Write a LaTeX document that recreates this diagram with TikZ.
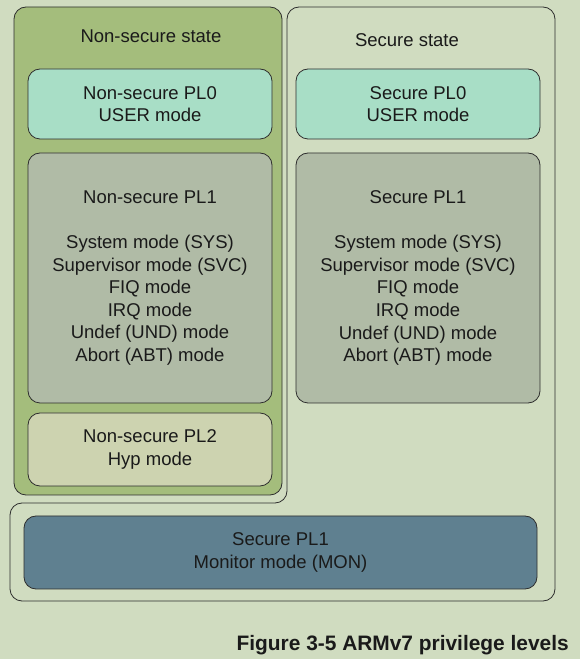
\documentclass[tikz,border=0pt]{standalone}
\usepackage{fontspec}
\setmainfont{Liberation Sans}
\definecolor{bgc}{HTML}{D0DCC0}
\definecolor{nsgreen}{HTML}{A4BD7C}
\definecolor{plzero}{HTML}{A8DEC6}
\definecolor{plone}{HTML}{B0BBA6}
\definecolor{pltwo}{HTML}{CDD3B0}
\definecolor{mon}{HTML}{5F8090}
\definecolor{edge}{HTML}{2E2E2E}
\definecolor{txt}{HTML}{1A1A1A}
\tikzset{
  lbl/.style={font={\fontsize{18.5}{22.6}\selectfont}, text=txt, align=center, inner sep=0pt},
  modebox/.style={lbl, draw=edge, line width=0.8pt, rounded corners=12pt},
  zerobox/.style={modebox, fill=plzero, minimum width=244pt, minimum height=70pt},
  onebox/.style={modebox, fill=plone, minimum width=244pt, minimum height=250pt},
  twobox/.style={modebox, fill=pltwo, minimum width=244pt, minimum height=73pt},
  monbox/.style={modebox, fill=mon, minimum width=513pt, minimum height=73pt},
  region/.style={draw=edge, line width=0.8pt, rounded corners=12pt}
}
\begin{document}
\begin{tikzpicture}[x=1pt,y=1pt]
\fill[bgc] (0,0) rectangle (580,659);
\useasboundingbox (0,0) rectangle (580,659);
% secure state L-shaped region
\draw[region, fill=bgc] (287,652) -- (555,652) -- (555,58) -- (10,58) -- (10,156) -- (287,156) -- cycle;
% non-secure state region
\draw[region, fill=nsgreen] (14,164) rectangle (282,652);
\node[lbl] (nstitle) at (151,623) {Non-secure state};
\node[lbl] (stitle) at (407,619) {Secure state};
\node[zerobox] (nspl0) at (150,555) {Non-secure PL0\\USER mode};
\node[zerobox] (spl0) at (418,555) {Secure PL0\\USER mode};
\node[onebox] (nspl1) at (150,381) {Non-secure PL1\\[22.6pt]System mode (SYS)\\Supervisor mode (SVC)\\FIQ mode\\IRQ mode\\Undef (UND) mode\\Abort (ABT) mode};
\node[onebox] (spl1) at (418,381) {Secure PL1\\[22.6pt]System mode (SYS)\\Supervisor mode (SVC)\\FIQ mode\\IRQ mode\\Undef (UND) mode\\Abort (ABT) mode};
\node[twobox] (nspl2) at (150,209.5) {Non-secure PL2\\Hyp mode};
\node[monbox] (smon) at (280.5,106.5) {Secure PL1\\Monitor mode (MON)};
\node[font={\fontsize{20.9}{24}\selectfont\bfseries}, text=txt, anchor=east, inner sep=0pt] (cap) at (569,14) {Figure 3-5 ARMv7 privilege levels};
\end{tikzpicture}
\end{document}
